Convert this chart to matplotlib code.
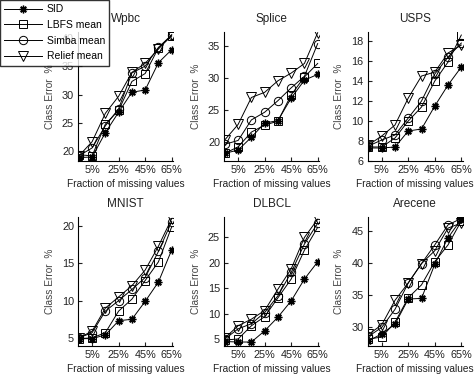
"""Class error vs fraction of missing values, six datasets, SID vs three feature-weighting baselines."""
import matplotlib
matplotlib.use("Agg")
import matplotlib.pyplot as plt
import numpy as np

plt.rcParams["font.family"] = ["Liberation Sans", "DejaVu Sans"]

TICK_LABELS = ["5%", "25%", "45%", "65%"]
METHODS = ["SID", "LBFS mean", "Simba mean", "Relief mean"]

# one list per method, 8 missing-value levels each
wpbc_sid = [18.9, 19.0, 23.3, 26.9, 30.4, 30.8, 35.6, 37.9]
wpbc_lbfs = [19.4, 19.2, 24.8, 27.2, 32.3, 33.7, 38.2, 40.3]
wpbc_simba = [19.2, 20.6, 24.5, 27.5, 33.8, 35.0, 38.3, 40.5]
wpbc_relief = [19.2, 21.7, 26.7, 29.7, 33.9, 35.5, 38.0, 40.5]

splice_sid = [18.2, 18.7, 20.7, 22.9, 23.3, 26.8, 29.6, 30.5]
splice_lbfs = [18.2, 19.2, 21.5, 22.6, 23.2, 27.3, 30.1, 32.2]
splice_simba = [19.6, 20.2, 23.4, 24.6, 26.4, 28.4, 30.2, 35.3]
splice_relief = [20.3, 22.7, 26.9, 27.7, 29.5, 30.7, 32.2, 37.0]

usps_sid = [7.3, 7.3, 7.4, 9.0, 9.2, 11.5, 13.6, 15.4]
usps_lbfs = [7.4, 7.4, 8.3, 10.0, 11.4, 14.0, 15.9, 18.6]
usps_simba = [7.5, 8.1, 8.6, 10.3, 12.0, 14.7, 16.4, 17.8]
usps_relief = [7.6, 8.5, 9.6, 12.3, 14.5, 14.9, 16.8, 17.6]

mnist_sid = [4.9, 4.9, 5.4, 7.3, 7.5, 9.9, 12.5, 16.8]
mnist_lbfs = [4.9, 5.0, 5.7, 8.6, 10.2, 12.7, 15.2, 19.9]
mnist_simba = [5.0, 5.7, 8.6, 10.0, 11.5, 13.1, 16.6, 20.6]
mnist_relief = [5.0, 5.9, 9.0, 10.5, 12.0, 14.1, 17.3, 21.0]

dlbcl_sid = [4.5, 4.4, 4.4, 6.6, 9.3, 12.5, 16.8, 20.2]
dlbcl_lbfs = [4.8, 5.0, 7.6, 9.4, 13.1, 16.8, 22.5, 27.0]
dlbcl_simba = [5.0, 7.0, 8.0, 10.2, 13.5, 18.1, 23.7, 27.8]
dlbcl_relief = [5.2, 7.6, 8.9, 10.6, 14.8, 18.8, 25.0, 28.6]

arecene_sid = [27.9, 29.0, 30.5, 34.4, 34.5, 39.8, 43.9, 46.8]
arecene_lbfs = [28.2, 28.5, 30.8, 34.6, 36.6, 40.2, 42.8, 46.5]
arecene_simba = [28.6, 30.0, 32.8, 36.9, 39.9, 42.8, 45.9, 46.9]
arecene_relief = [28.9, 30.4, 34.2, 36.9, 39.9, 41.9, 45.4, 46.2]

PANELS = [
    ("Wpbc", [wpbc_sid, wpbc_lbfs, wpbc_simba, wpbc_relief], (18.3, 41.0), [20, 25, 30, 35, 40]),
    ("Splice", [splice_sid, splice_lbfs, splice_simba, splice_relief], (17.0, 37.1), [20, 25, 30, 35]),
    ("USPS", [usps_sid, usps_lbfs, usps_simba, usps_relief], (6.0, 18.9), [6, 8, 10, 12, 14, 16, 18]),
    ("MNIST", [mnist_sid, mnist_lbfs, mnist_simba, mnist_relief], (3.9, 21.2), [5, 10, 15, 20]),
    ("DLBCL", [dlbcl_sid, dlbcl_lbfs, dlbcl_simba, dlbcl_relief], (3.6, 29.0), [5, 10, 15, 20, 25]),
    ("Arecene", [arecene_sid, arecene_lbfs, arecene_simba, arecene_relief], (27.1, 47.1), [30, 35, 40, 45]),
]
STYLES = [dict(marker=(8, 2, 0), ms=5.5, mew=1.0),
          dict(marker="s", ms=6, mew=0.7, mfc="none"),
          dict(marker="o", ms=6, mew=0.7, mfc="none"),
          dict(marker="v", ms=6.5, mew=0.7, mfc="none")]

LEFTS = [0.165, 0.473, 0.776]
BOTTOMS = [0.573, 0.082]
W, H = 0.2, 0.342

fig = plt.figure(figsize=(4.74, 3.77), dpi=100)
handles = []
for i, (name, series, ylim, yticks) in enumerate(PANELS):
    ax = fig.add_axes([LEFTS[i % 3], BOTTOMS[i // 3], W, H])
    x = np.arange(len(series[0]))
    for s, label, st in zip(series, METHODS, STYLES):
        ln, = ax.plot(x, s, color="black", lw=0.7, mec="black", label=label, **st)
        if i == 0:
            handles.append(ln)
    ax.set_xlim(-0.05, 7.1)
    ax.set_ylim(*ylim)
    ax.set_yticks(yticks)
    ax.set_xticks([1, 3, 5, 7])
    ax.set_xticklabels(TICK_LABELS)
    for sp in ("top", "right"):
        ax.spines[sp].set_visible(False)
    for sp in ("left", "bottom"):
        ax.spines[sp].set_linewidth(0.8)
    ax.tick_params(direction="in", length=3, width=0.8, labelsize=7.8, pad=3, colors="#222222")
    ax.set_title(name, fontsize=8.5, pad=7, color="#222222")
    ax.set_xlabel("Fraction of missing values", fontsize=7.3, labelpad=3, color="#222222")
    ax.set_ylabel("Class Error  %", fontsize=7.3, labelpad=5, color="#444444")

leg = fig.legend(handles=handles, loc="upper left", bbox_to_anchor=(0.0, 1.0),
                 fontsize=7.5, handlelength=3.6, frameon=True, fancybox=False,
                 borderpad=0.4, labelspacing=0.55, handletextpad=0.5, borderaxespad=0.0)
leg.get_frame().set_edgecolor("black")
leg.get_frame().set_linewidth(1.0)
leg.set_zorder(10)

fig.savefig("out.png", dpi=100)
